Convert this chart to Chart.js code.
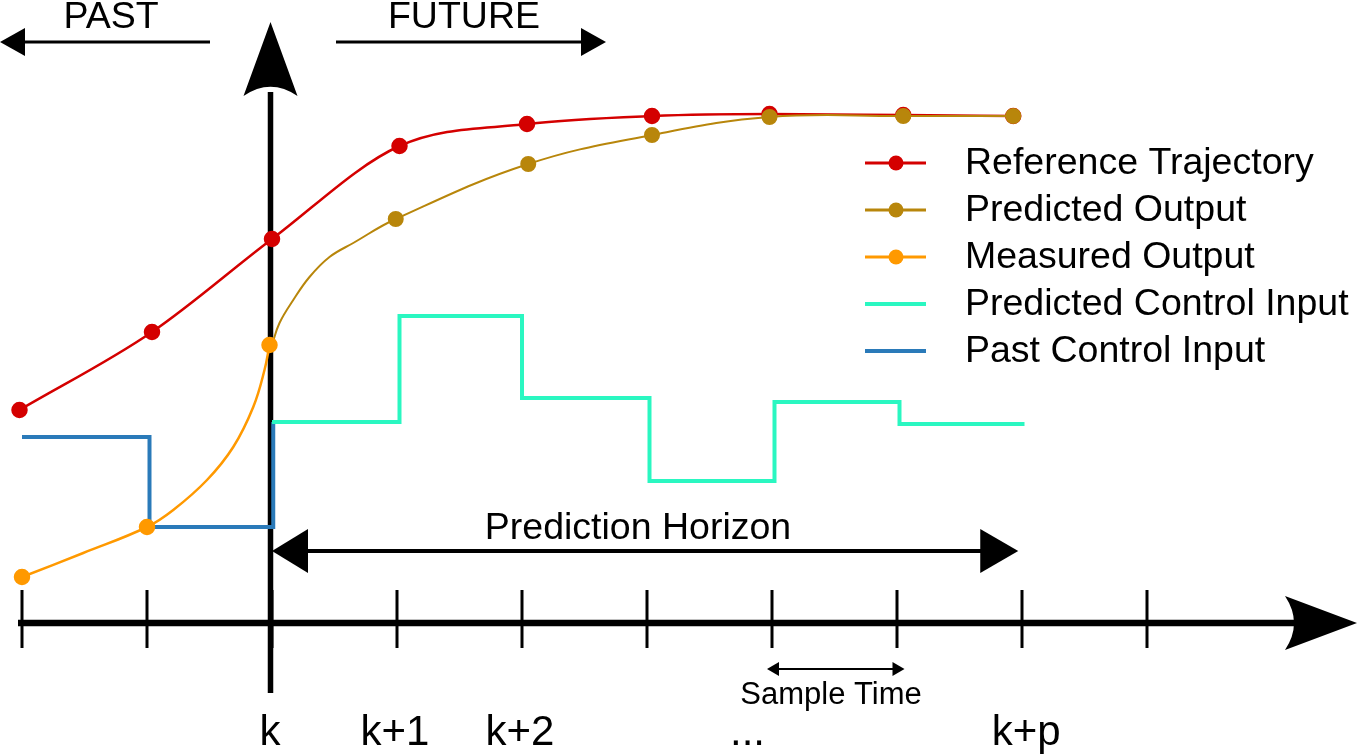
<!DOCTYPE html>
<html>
<head>
<meta charset="utf-8">
<title>MPC</title>
<script src="https://cdn.jsdelivr.net/npm/chart.js@4"></script>
<style>
  html, body { margin: 0; padding: 0; background: #fff; }
  #wrap { width: 1358px; height: 754px; position: relative; }
</style>
</head>
<body>
<div id="wrap"><canvas id="grafico"></canvas></div>
<script>
// dados (x em amostras, k = 0; y em unidades arbitrárias, eixo do tempo = 0)
const refX = [-2.02, -0.96, 0, 1.02, 2.04, 3.04, 3.98, 5.05, 5.93];
const refY = [2.13, 2.91, 3.84, 4.77, 4.99, 5.07, 5.09, 5.08, 5.07];

// pontos sem marcador = pontos, só para seguir a forma
const predX = [0, 0.06, 0.17, 0.30, 0.46, 0.65, 0.99, 2.05, 3.04, 3.98, 5.05, 5.93];
const predY = [2.78, 3.00, 3.23, 3.46, 3.66, 3.80, 4.04, 4.59, 4.88, 5.06, 5.07, 5.07];
const predMarcado = [false, false, false, false, false, false, true, true, true, true, true, true];

const medX = [-2, -1.51, -1, -0.79, -0.52, -0.31, -0.15, -0.06, -0.02];
const medY = [0.46, 0.70, 0.96, 1.13, 1.43, 1.76, 2.16, 2.53, 2.78];
const medMarcado = [true, false, true, false, false, false, false, false, true];

const uFutX = [0, 1.02, 2, 3.02, 4.02, 5.02, 6.02];
const uFutY = [2.01, 3.07, 2.25, 1.42, 2.21, 1.99, 1.99];

const uPasX = [-2, -0.98, 0.01];
const uPasY = [1.86, 0.96, 2.01];

const ticksX = [-2, -1, 0, 1, 2, 3, 4, 5, 6, 7];
const rotulosX = [0, 1, 2, 3.82, 6.05];
const rotulos = ['k', 'k+1', 'k+2', '...', 'k+p'];

const horizonte = [0, 5.97];
const amostra = [3.96, 5.06];

// calibração: pixel de k e largura de uma amostra, pixel do eixo do tempo e de uma unidade
const ORIGEM_X = 272, PASSO_X = 125;
const ORIGEM_Y = 623, PASSO_Y = 100;

const FONTE = '"Liberation Sans", Arial, sans-serif';

function pontos(xs, ys) {
  return xs.map((x, i) => ({ x: x, y: ys[i] }));
}

// ponta de seta (opcionalmente com base côncava)
function ponta(ctx, tx, ty, dx, dy, comp, meia, concava) {
  const bx = tx - dx * comp, by = ty - dy * comp;
  const nx = -dy, ny = dx;
  ctx.beginPath();
  ctx.moveTo(tx, ty);
  ctx.lineTo(bx + nx * meia, by + ny * meia);
  if (concava) {
    const cx = bx + dx * comp * 0.25, cy = by + dy * comp * 0.25;
    ctx.quadraticCurveTo(cx, cy, bx - nx * meia, by - ny * meia);
  } else {
    ctx.lineTo(bx - nx * meia, by - ny * meia);
  }
  ctx.closePath();
  ctx.fill();
}

function linha(ctx, x1, y1, x2, y2, w) {
  ctx.lineWidth = w;
  ctx.beginPath();
  ctx.moveTo(x1, y1);
  ctx.lineTo(x2, y2);
  ctx.stroke();
}

const decoracao = {
  id: 'decoracao',
  beforeDatasetsDraw(chart) {
    const ctx = chart.ctx;
    const sx = chart.scales.x, sy = chart.scales.y;
    const y0 = sy.getPixelForValue(0);
    const xk = sx.getPixelForValue(0);
    ctx.save();
    ctx.strokeStyle = '#000';
    ctx.fillStyle = '#000';
    ctx.lineCap = 'butt';

    // eixo do tempo
    linha(ctx, sx.getPixelForValue(-2) - 4, y0, chart.width - 62, y0, 6.5);
    ponta(ctx, chart.width - 1, y0, 1, 0, 72, 27, true);
    ticksX.forEach(t => {
      const px = sx.getPixelForValue(t);
      linha(ctx, px, y0 - 33, px, y0 + 25, 3);
    });

    // eixo vertical em k
    linha(ctx, xk - 1.5, y0 + 70, xk - 1.5, 92, 5.5);
    ponta(ctx, xk - 1.5, 22, 0, -1, 74, 27, true);

    // passado / futuro
    linha(ctx, 22, 42, 210, 42, 3);
    ponta(ctx, 0, 42, -1, 0, 25, 14, false);
    linha(ctx, 336, 42, 582, 42, 3);
    ponta(ctx, 606, 42, 1, 0, 25, 14, false);

    // horizonte de predição
    const yh = sy.getPixelForValue(0.72);
    const h1 = sx.getPixelForValue(horizonte[0]), h2 = sx.getPixelForValue(horizonte[1]);
    linha(ctx, h1 + 30, yh, h2 - 30, yh, 4);
    ponta(ctx, h1, yh, -1, 0, 36, 22, false);
    ponta(ctx, h2, yh, 1, 0, 38, 22, false);

    // tempo de amostragem
    const ya = sy.getPixelForValue(-0.46);
    const a1 = sx.getPixelForValue(amostra[0]), a2 = sx.getPixelForValue(amostra[1]);
    linha(ctx, a1 + 8, ya, a2 - 8, ya, 2);
    ponta(ctx, a1, ya, -1, 0, 12, 7, false);
    ponta(ctx, a2, ya, 1, 0, 12, 7, false);
    ctx.restore();
  },
  afterDatasetsDraw(chart) {
    const ctx = chart.ctx;
    const sx = chart.scales.x, sy = chart.scales.y;
    ctx.save();
    ctx.fillStyle = '#000';
    ctx.textAlign = 'center';
    ctx.textBaseline = 'alphabetic';

    ctx.font = '37.5px ' + FONTE;
    ctx.fillText('PAST', 111, 28);
    ctx.fillText('FUTURE', 464, 28);
    ctx.fillText('Prediction Horizon', 638, sy.getPixelForValue(0.72) - 12);

    ctx.font = '42px ' + FONTE;
    rotulosX.forEach((v, i) => {
      ctx.fillText(rotulos[i], sx.getPixelForValue(v) - 2, 745);
    });

    ctx.font = '31px ' + FONTE;
    ctx.fillText('Sample Time', 831, 704);

    // legenda
    ctx.textAlign = 'left';
    ctx.textBaseline = 'middle';
    ctx.font = '37.5px ' + FONTE;
    chart.data.datasets.forEach((ds, i) => {
      const yy = 163 + i * 47;
      ctx.strokeStyle = ds.borderColor;
      ctx.lineWidth = ds.legendaLargura;
      ctx.beginPath();
      ctx.moveTo(865, yy);
      ctx.lineTo(926, yy);
      ctx.stroke();
      if (ds.marcador) {
        ctx.fillStyle = ds.borderColor;
        ctx.beginPath();
        ctx.arc(896, yy, 7.5, 0, Math.PI * 2);
        ctx.fill();
      }
      ctx.fillStyle = '#000';
      ctx.fillText(ds.label, 965, yy + 1);
    });
    ctx.restore();
  }
};

const ctx = document.getElementById('grafico').getContext('2d');
const grafico = new Chart(ctx, {
  type: 'line',
  data: {
    datasets: [
      {
        label: 'Reference Trajectory',
        data: pontos(refX, refY),
        borderColor: '#d40000',
        backgroundColor: '#d40000',
        borderWidth: 2.5,
        pointRadius: 7,
        cubicInterpolationMode: 'monotone',
        order: 2,
        marcador: true,
        legendaLargura: 3
      },
      {
        label: 'Predicted Output',
        data: pontos(predX, predY),
        borderColor: '#b8860b',
        backgroundColor: '#b8860b',
        borderWidth: 2,
        pointRadius: predMarcado.map(m => (m ? 7 : 0)),
        tension: 0.4,
        order: 1,
        marcador: true,
        legendaLargura: 3
      },
      {
        label: 'Measured Output',
        data: pontos(medX, medY),
        borderColor: '#ff9900',
        backgroundColor: '#ff9900',
        borderWidth: 2.5,
        pointRadius: medMarcado.map(m => (m ? 7 : 0)),
        tension: 0.4,
        order: 0,
        marcador: true,
        legendaLargura: 3
      },
      {
        label: 'Predicted Control Input',
        data: pontos(uFutX, uFutY),
        borderColor: '#2af7c1',
        borderWidth: 4,
        pointRadius: 0,
        stepped: true,
        order: 3,
        marcador: false,
        legendaLargura: 4
      },
      {
        label: 'Past Control Input',
        data: pontos(uPasX, uPasY),
        borderColor: '#2a7ab9',
        borderWidth: 4,
        pointRadius: 0,
        stepped: true,
        order: 4,
        marcador: false,
        legendaLargura: 4
      }
    ]
  },
  options: {
    responsive: true,
    maintainAspectRatio: false,
    animation: false,
    events: [],
    layout: { padding: 0 },
    elements: {
      point: { borderWidth: 0, hoverRadius: 0 },
      line: { borderJoinStyle: 'miter', borderCapStyle: 'butt', fill: false }
    },
    scales: {
      x: { type: 'linear', display: false, min: -2.176, max: 8.688 },
      y: { type: 'linear', display: false, min: -1.31, max: 6.23 }
    },
    plugins: {
      legend: { display: false },
      tooltip: { enabled: false }
    }
  },
  plugins: [decoracao]
});

// o Chart.js deixa uma folga para os pontos; ajusta os limites para manter a calibração
const area = grafico.chartArea;
grafico.options.scales.x.min = (area.left - ORIGEM_X) / PASSO_X;
grafico.options.scales.x.max = (area.right - ORIGEM_X) / PASSO_X;
grafico.options.scales.y.max = (ORIGEM_Y - area.top) / PASSO_Y;
grafico.options.scales.y.min = (ORIGEM_Y - area.bottom) / PASSO_Y;
grafico.update();
</script>
</body>
</html>
